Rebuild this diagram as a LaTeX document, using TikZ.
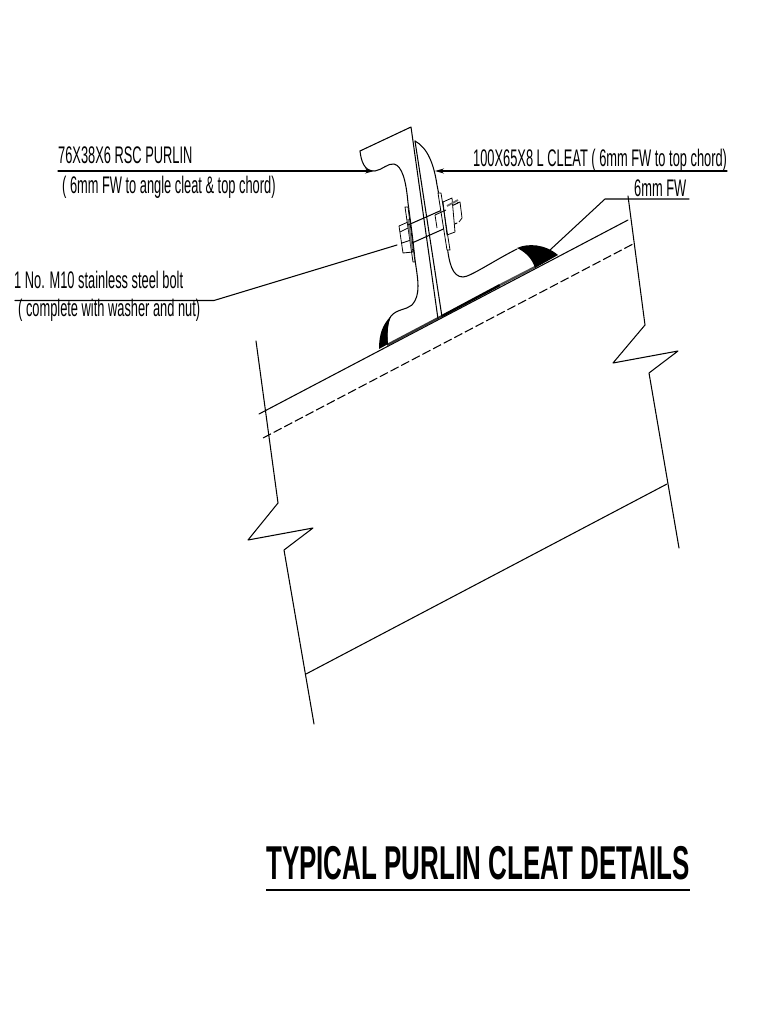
\documentclass[tikz,border=0pt]{standalone}
\usepackage{fontspec}
\setmainfont{Liberation Sans}
\newfontfamily\condf[FakeStretch=0.535]{Liberation Sans}
\newfontfamily\titlef[FakeStretch=0.547]{Liberation Sans Bold}
\usetikzlibrary{arrows.meta}
\tikzset{
 ln/.style={line width=1.05pt,black,line cap=round,line join=round},
 thin ln/.style={line width=0.8pt,black,line join=round},
 lbl/.style={inner sep=0pt,anchor=base west,font=\condf\fontsize{24}{26}\selectfont},
 arr/.style={ln,-{Stealth[length=9pt,width=5pt]}},
}
\begin{document}
\begin{tikzpicture}[x=1pt,y=-1pt]
\useasboundingbox (0,0) rectangle (768,1024);
% chord
\coordinate (c1) at (259,414); \coordinate (c2) at (628,220);
\draw[ln] (c1) -- (c2);
\coordinate (d1) at (263,438); \coordinate (d2) at (633,244);
\draw[ln,line cap=butt,dash pattern=on 9pt off 3pt] (d1) -- (d2);
\coordinate (b1) at (306,674); \coordinate (b2) at (667,484);
\draw[ln] (b1) -- (b2);
% break lines
\draw[ln] (256,341) -- (278,503) -- (248,540) -- (313,528) -- (284,550) -- (314,724);
\draw[ln] (628,196) -- (645,325) -- (613,363) -- (678,351) -- (649,373) -- (679,548);
% weld strip
\draw[line width=2.2pt,black!80] (387,345) -- (442,316);
\draw[line width=2.4pt,black] (442,316) -- (500,285);
\draw[line width=2.2pt,black!70] (500,285) -- (537,266);
% plate
\draw[ln] (360,151) -- (411,127) -- (438,319);
\draw[ln] (415,141) -- (442,317);
% purlin profile
\draw[ln] (360,151) .. controls (361,160) and (364,172) .. (375,171)
 .. controls (382,170) and (388,163) .. (394,164)
 .. controls (402,166) and (406,180) .. (408,203)
 .. controls (411,225) and (413,240) .. (415,260)
 .. controls (418,280) and (421,295) .. (412,305)
 .. controls (406,310) and (397,309) .. (391,316)
 .. controls (387,322) and (387,332) .. (387,344);
% left weld
\fill[black] (391,316) .. controls (382,325) and (379,335) .. (379,349)
 -- (388,344) .. controls (387,335) and (387,325) .. (391,316) -- cycle;
% cleat profile
\draw[ln] (415,141) .. controls (428,148) and (434,165) .. (437,185)
 .. controls (441,205) and (444,225) .. (447,245)
 .. controls (449,262) and (452,277) .. (463,277)
 .. controls (470,277) and (495,260) .. (517,249);
% right weld
\fill[black] (517,248) .. controls (528,243) and (545,244) .. (558,255)
 -- (535,268) .. controls (532,258) and (525,252) .. (517,248) -- cycle;
% washers and nuts, left
\fill[white] (405,207) -- (408,207) -- (415,262) -- (413,262) -- cycle;
\draw[thin ln] (405,207) -- (408,207) -- (415,262) -- (413,262) -- cycle;
\draw[thin ln] (399,226) -- (408,222) -- (413,252) -- (403,253) -- cycle;
\draw[thin ln] (400,232) -- (408,228);
\draw[thin ln] (402,243) -- (411,240);
\draw[line width=1.8pt,black!55] (408,219) -- (412,249);
% shank
\draw[ln] (408,225) -- (458,203);
\draw[ln] (412,243) -- (457,223);
% right side
\fill[white] (443,202) -- (452,198) -- (455,232) -- (447,235) -- cycle;
\fill[white] (438,193) -- (441,193) -- (450,250) -- (447,250) -- cycle;
\draw[thin ln] (438,193) -- (441,193) -- (450,250) -- (447,250) -- cycle;
\draw[thin ln] (443,202) -- (452,198) -- (455,232) -- (447,235) -- cycle;
\draw[thin ln] (435,215) -- (446,210);
\draw[thin ln] (435,215) -- (437,228);
\draw[thin ln] (457,203) -- (460,202) -- (462,218) -- (459,222);
\draw[line width=1.8pt,black!60] (447,206) -- (458,200);
% leaders
\coordinate (pS) at (58,171); \coordinate (pE) at (374,171);
\draw[arr] (pS) -- (pE);
\coordinate (qS) at (727,171); \coordinate (qE) at (435,171);
\draw[arr] (qS) -- (qE);
\coordinate (wA) at (689,199); \coordinate (wB) at (605,199); \coordinate (wC) at (550,250);
\draw[ln] (wA) -- (wB) -- (wC);
\coordinate (sA) at (15,300.5); \coordinate (sB) at (214,300.5); \coordinate (sC) at (397,245);
\draw[ln] (sA) -- (sB) -- (sC);
% labels
\node[lbl] (t1) at (58,164) {76X38X6 RSC PURLIN};
\node[lbl] (t2) at (62,194) {( 6mm FW to angle cleat \& top chord)};
\node[lbl] (t3) at (473,167) {100X65X8 L CLEAT ( 6mm FW to top chord)};
\node[lbl] (t4) at (634,197) {6mm FW};
\node[lbl] (t5) at (14,288) {1 No. M10 stainless steel bolt};
\node[lbl] (t6) at (18,316) {( complete with washer and nut)};
% title
\node[inner sep=0pt,anchor=base west,font=\titlef\fontsize{47.5}{50}\selectfont] (ttl) at (266,879) {TYPICAL PURLIN CLEAT DETAILS};
\coordinate (uA) at (266,890); \coordinate (uB) at (690,890);
\draw[line width=1.5pt] (uA) -- (uB);
\end{tikzpicture}
\end{document}
